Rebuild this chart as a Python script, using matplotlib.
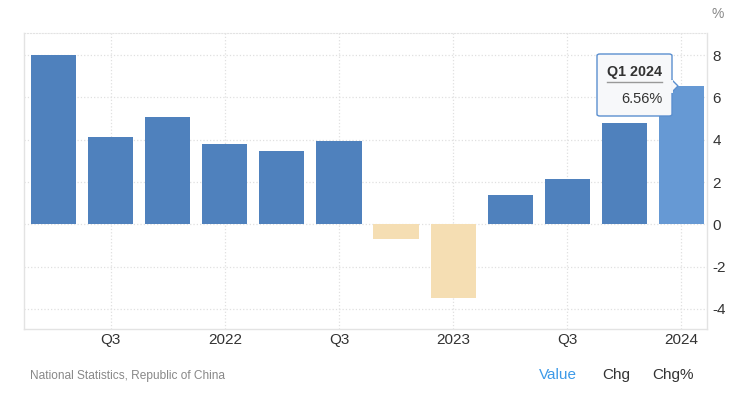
import matplotlib.pyplot as plt
from matplotlib.patches import FancyBboxPatch, Polygon
from matplotlib.lines import Line2D

plt.rcParams['font.family'] = ['Liberation Sans', 'DejaVu Sans']
plt.rcParams['axes.unicode_minus'] = False

# quarterly GDP growth, Q2 2021 .. Q1 2024
quarters = ['Q2 2021', 'Q3 2021', 'Q4 2021', 'Q1 2022', 'Q2 2022', 'Q3 2022',
            'Q4 2022', 'Q1 2023', 'Q2 2023', 'Q3 2023', 'Q4 2023', 'Q1 2024']
values = [8.0, 4.14, 5.08, 3.81, 3.47, 3.95, -0.69, -3.47, 1.39, 2.15, 4.8, 6.56]
tick_idx = [1, 3, 5, 7, 9, 11]
tick_labels = ['Q3', '2022', 'Q3', '2023', 'Q3', '2024']
yticks = [-4, -2, 0, 2, 4, 6, 8]

W, H = 739, 397
fig = plt.figure(figsize=(W / 100, H / 100), dpi=100)
ax = fig.add_axes([24 / W, 1 - 329 / H, (707 - 24) / W, (329 - 33) / H])

def fx(x):
    return x / W

def fy(y):
    return 1 - y / H

blue = '#4f81bd'
light = '#6699d4'
neg = '#f5deb3'
colors = [neg if v < 0 else blue for v in values]
colors[-1] = light

x = list(range(len(values)))
ax.bar(x, values, width=0.79, color=colors, zorder=2)

ax.set_xlim(-0.52, 11.45)
ax.set_ylim(-4.95, 9.05)
ax.set_xticks(tick_idx)
ax.set_xticklabels(tick_labels)
ax.set_yticks(yticks)
ax.yaxis.tick_right()
ax.tick_params(axis='both', length=0, labelsize=11, colors='#333333')
ax.tick_params(axis='y', pad=4)
ax.tick_params(axis='x', pad=3)
for lab in ax.get_yticklabels():
    lab.set_horizontalalignment('left')

ax.grid(True, color='#e0e0e0', linestyle=':', linewidth=0.9, zorder=0)
ax.set_axisbelow(True)
for side in ['left', 'right', 'bottom']:
    ax.spines[side].set_color('#e3e3e3')
    ax.spines[side].set_linewidth(1.0)
ax.spines['top'].set_color('#e3e3e3')
ax.spines['top'].set_linestyle(':')

fig.text(fx(711), fy(14), '%', fontsize=10, color='#888888', ha='left', va='center')

# tooltip for the last point
box = FancyBboxPatch((fx(597), fy(116)), fx(672 - 597), (116 - 54) / H,
                     boxstyle='round,pad=0,rounding_size=0.004', transform=fig.transFigure,
                     facecolor='#f7f8fa', edgecolor='#5b8fcf', linewidth=1.0, zorder=5)
fig.patches.append(box)
arrow = Polygon([[fx(672), fy(80)], [fx(678), fy(86)], [fx(672), fy(92)]], closed=True,
                transform=fig.transFigure, facecolor='#f7f8fa', edgecolor='#5b8fcf',
                linewidth=1.0, zorder=5)
fig.patches.append(arrow)
fig.lines.append(Line2D([fx(671.6), fx(671.6)], [fy(80.5), fy(91.5)], transform=fig.transFigure,
                        color='#f7f8fa', linewidth=1.4, zorder=5.5))
fig.text(fx(634.5), fy(72), quarters[-1], fontsize=10.3, fontweight='bold', color='#333333',
         ha='center', va='center', zorder=6)
fig.lines.append(Line2D([fx(607), fx(662)], [fy(82), fy(82)], transform=fig.transFigure,
                        color='#999999', linewidth=1.0, zorder=6))
fig.text(fx(662), fy(99), f'{values[-1]:.2f}%', fontsize=10.5, color='#333333',
         ha='right', va='center', zorder=6)

# footer
fig.text(fx(30), fy(376), 'National Statistics, Republic of China', fontsize=8.6,
         color='#888888', ha='left', va='center')
fig.text(fx(558), fy(375), 'Value', fontsize=11, color='#3d9ae8', ha='center', va='center')
fig.text(fx(616), fy(375), 'Chg', fontsize=11, color='#333333', ha='center', va='center')
fig.text(fx(673), fy(375), 'Chg%', fontsize=11, color='#333333', ha='center', va='center')

fig.savefig('out.png', dpi=100)
